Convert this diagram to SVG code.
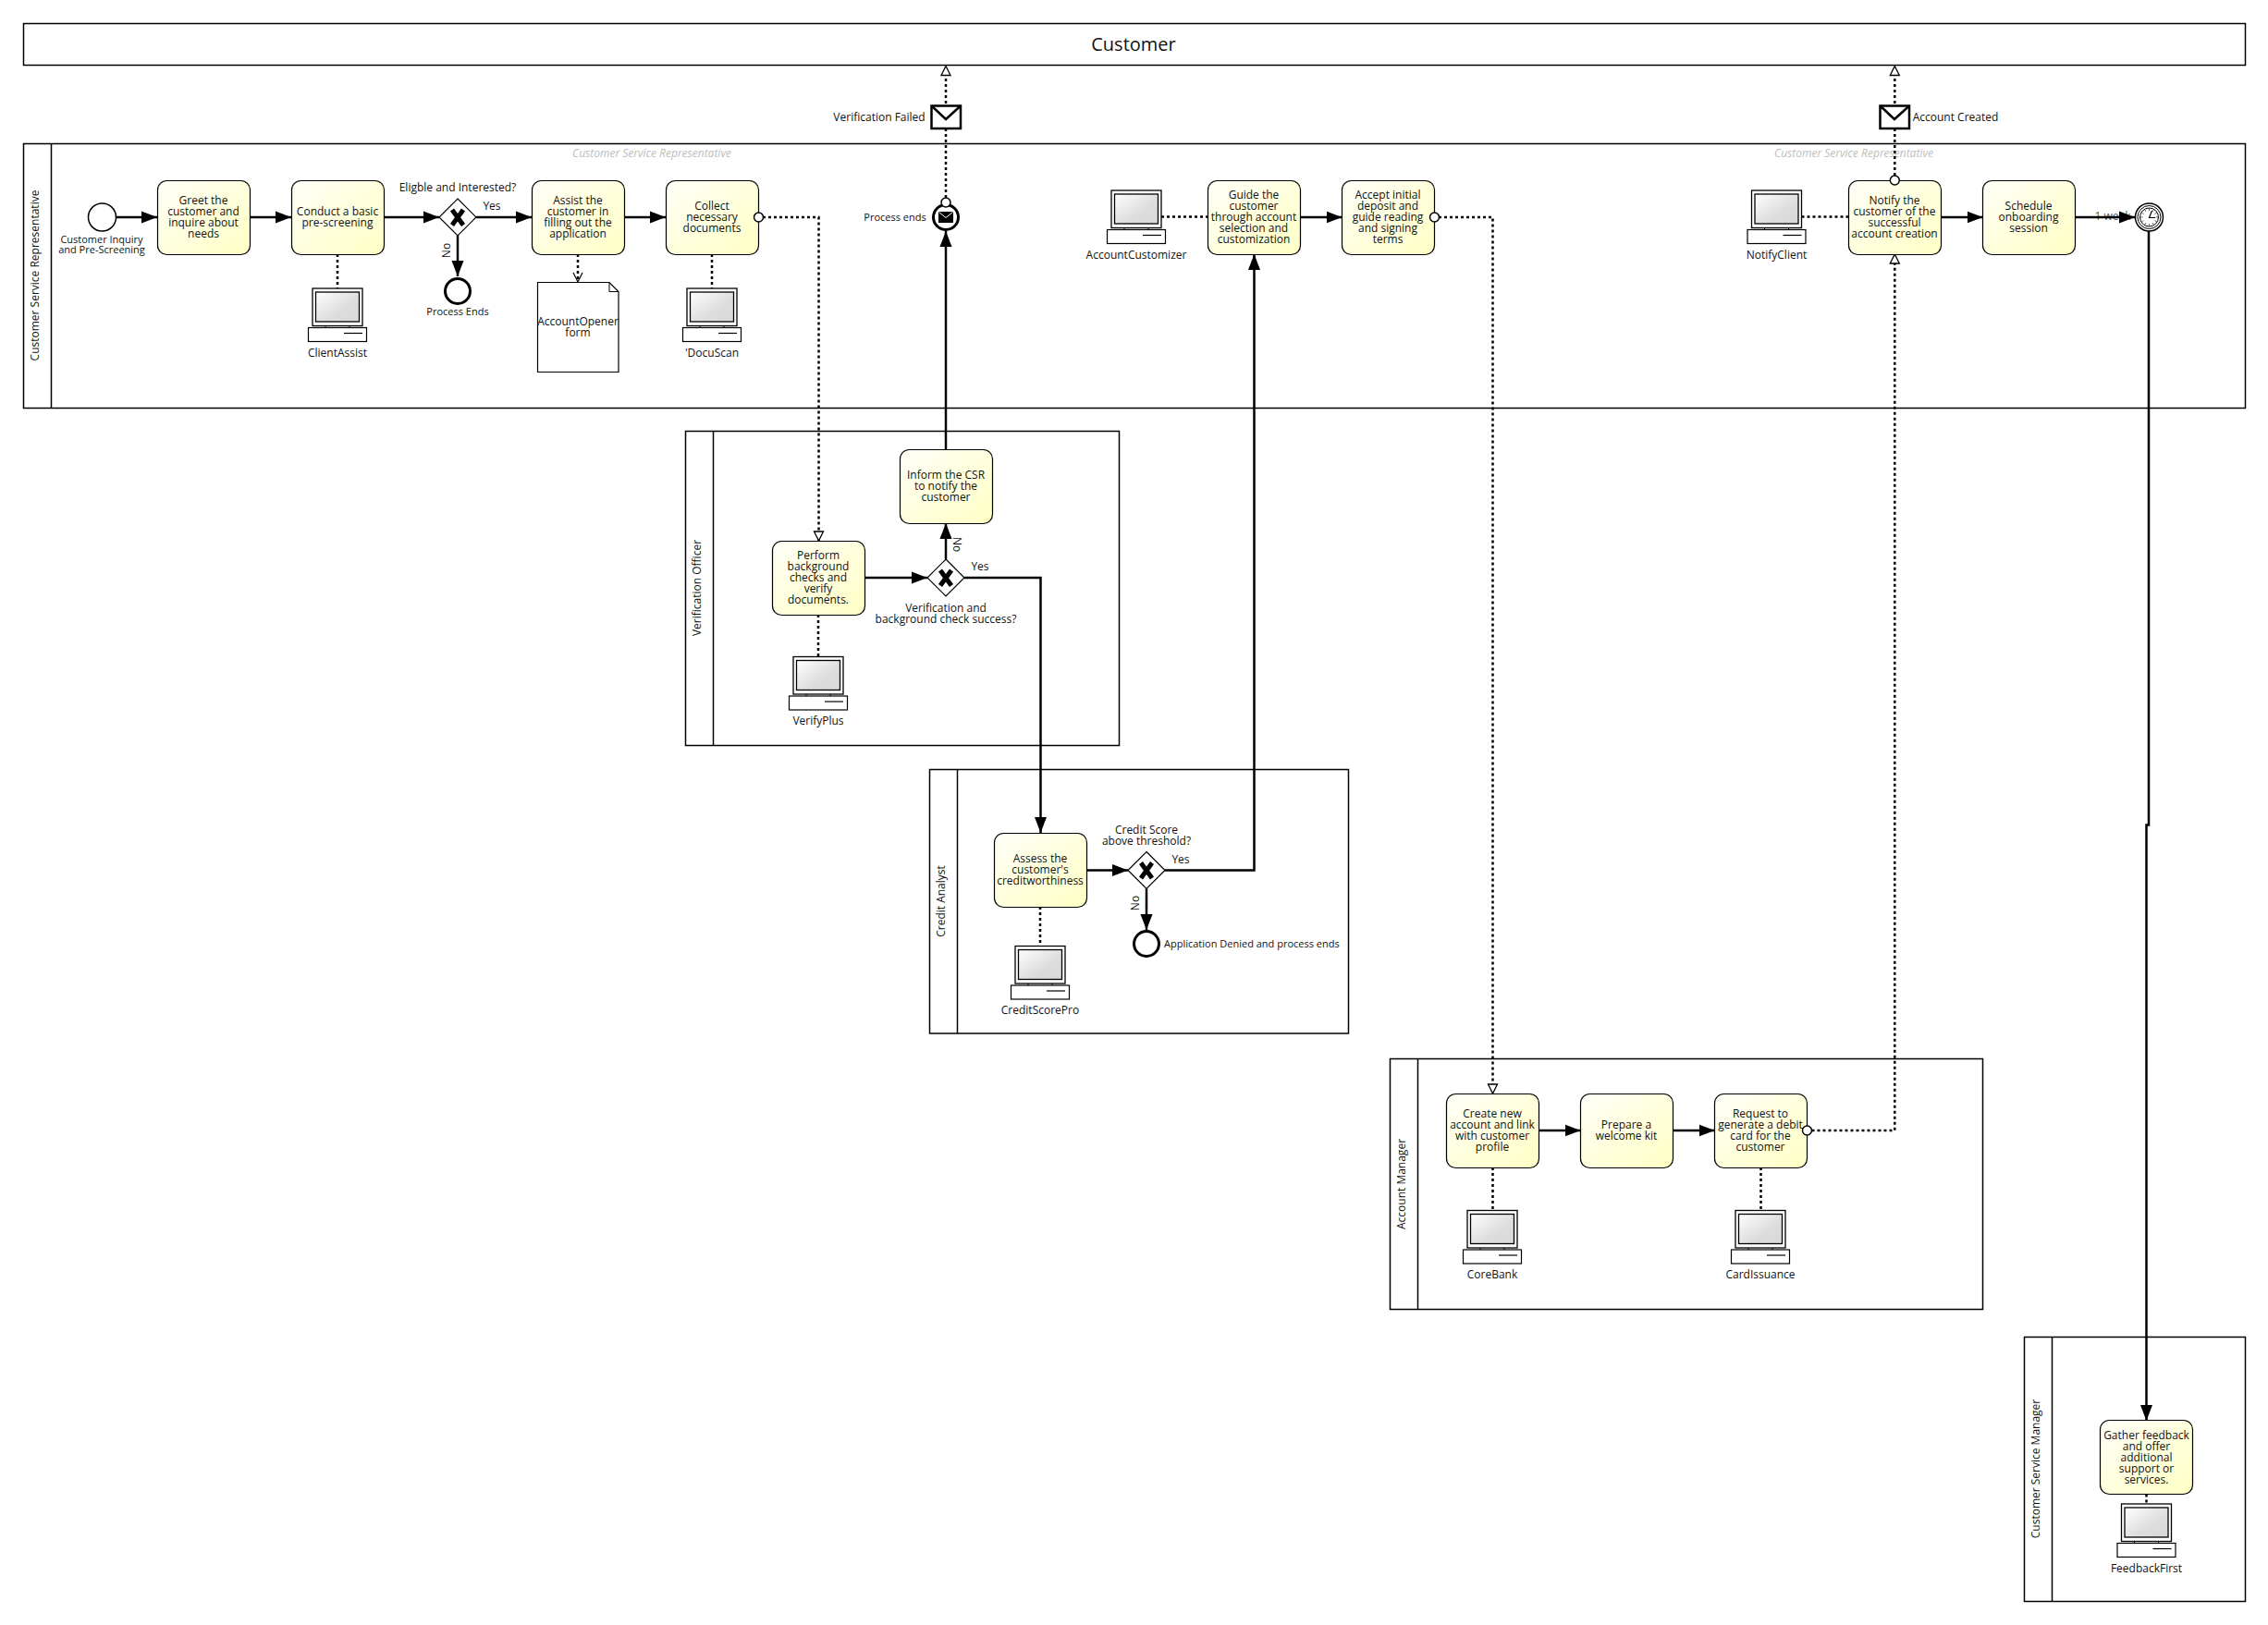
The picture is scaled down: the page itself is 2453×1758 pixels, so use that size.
<svg xmlns="http://www.w3.org/2000/svg" xmlns:xlink="http://www.w3.org/1999/xlink" width="2453" height="1758" viewBox="0 0 2453 1758">
<style>
text{font-family:"Open Sans","Noto Sans","Liberation Sans",sans-serif;font-size:12px;fill:#111;text-anchor:middle}
.sm{font-size:11px}
.ghost{font-style:italic;fill:#bdbdbd}
.title{font-size:20px}
.pool{fill:#fff;stroke:#000;stroke-width:1.5}
.hdr{fill:none;stroke:#000;stroke-width:1.5}
.task{fill:url(#taskGrad);stroke:#000;stroke-width:1.2}
.flow{fill:none;stroke:#000;stroke-width:2.5;marker-end:url(#arrow)}
.dot{fill:none;stroke:#000;stroke-width:2.5;stroke-dasharray:3 3}
.msg{marker-end:url(#hollow)}
.gw{fill:#fff;stroke:#000;stroke-width:1.2}
.gx{fill:none;stroke:#000;stroke-width:5}
.end{fill:#fff;stroke:#000;stroke-width:3}
.ring{fill:#fff;stroke:#000;stroke-width:1.5}
.fine{fill:#fff;stroke:#000;stroke-width:1}
.env{fill:#fff;stroke:#000;stroke-width:2.5}
</style>
<defs>
<linearGradient id="taskGrad" x1="0" y1="0" x2="1" y2="1"><stop offset="0" stop-color="#fffff8"/><stop offset="1" stop-color="#ffffc4"/></linearGradient>
<linearGradient id="scrGrad" x1="0" y1="0" x2="1" y2="1"><stop offset="0" stop-color="#ffffff"/><stop offset="0.6" stop-color="#dddddd"/><stop offset="1" stop-color="#d8d8d8"/></linearGradient>
<marker id="arrow" markerUnits="userSpaceOnUse" markerWidth="18" markerHeight="14" refX="17" refY="7" orient="auto"><path d="M0 0.500 L17 7 L0 13.500 Z" fill="#000"/></marker>
<marker id="hollow" markerUnits="userSpaceOnUse" markerWidth="14" markerHeight="14" refX="11" refY="7" orient="auto"><path d="M1 2 L11 7 L1 12 Z" fill="#fff" stroke="#000" stroke-width="1.3"/></marker>
<marker id="openArrow" markerUnits="userSpaceOnUse" markerWidth="14" markerHeight="14" refX="11" refY="7" orient="auto"><path d="M1 2 L11 7 L1 12" fill="none" stroke="#000" stroke-width="1.2"/></marker>
<g id="computer">
<rect x="-27" y="0" width="54" height="40.5" fill="#fff" stroke="#000" stroke-width="1.3"/>
<rect x="-23.5" y="4" width="47" height="32" fill="url(#scrGrad)" stroke="#000" stroke-width="1.3"/>
<path d="M-13 40.5V42.5M13 40.5V42.5" stroke="#000" fill="none"/>
<rect x="-31.5" y="42.5" width="63" height="15" fill="#fff" stroke="#000" stroke-width="1.2"/>
<path d="M7 48.5H27" stroke="#000" stroke-width="1.2" fill="none"/>
</g>
</defs>

<g id="pool-customer"><rect class="pool" x="25.5" y="25.5" width="2403" height="45"/><text class="title" x="1226" y="55">Customer</text></g>
<g id="pool-csr"><rect class="pool" x="25.5" y="155.5" width="2403" height="286"/><path class="hdr" d="M55.5 155.5V441.5"/><text transform="translate(42,298) rotate(-90)">Customer Service Representative</text><text class="ghost" x="705" y="170">Customer Service Representative</text><text class="ghost" x="2005" y="170">Customer Service Representative</text></g>
<g id="pool-vo"><rect class="pool" x="741.5" y="466.5" width="469" height="340"/><path class="hdr" d="M771.5 466.5V806.5"/><text transform="translate(758,636) rotate(-90)">Verification Officer</text></g>
<g id="pool-ca"><rect class="pool" x="1005.5" y="832.5" width="453" height="285.5"/><path class="hdr" d="M1035.5 832.5V1118"/><text transform="translate(1022,975) rotate(-90)">Credit Analyst</text></g>
<g id="pool-am"><rect class="pool" x="1503.5" y="1145.5" width="641" height="271"/><path class="hdr" d="M1533.5 1145.5V1416.5"/><text transform="translate(1520,1281) rotate(-90)">Account Manager</text></g>
<g id="pool-csm"><rect class="pool" x="2189.5" y="1446.5" width="239" height="286"/><path class="hdr" d="M2219.5 1446.5V1732.5"/><text transform="translate(2206,1589) rotate(-90)">Customer Service Manager</text></g>

<g id="connectors">
<text x="2285" y="238" style="fill:#555">1 week</text>
<path class="flow" d="M125 235H170"/>
<path class="flow" d="M270 235H315"/>
<path class="flow" d="M415 235H475"/>
<path class="flow" d="M515 235H575"/>
<path class="flow" d="M495 255V299"/>
<path class="flow" d="M675 235H720"/>
<path class="flow" d="M1023 486V250"/>
<path class="flow" d="M935.5 625H1003"/>
<path class="flow" d="M1023 605V566"/>
<path class="flow" d="M1043 625H1125.5V901"/>
<path class="flow" d="M1175.5 941.5H1220"/>
<path class="flow" d="M1260 941.5H1356.5V275"/>
<path class="flow" d="M1240 961.5V1006"/>
<path class="flow" d="M1406 235H1451.5"/>
<path class="flow" d="M1664.5 1223H1709.5"/>
<path class="flow" d="M1809.5 1223H1854.5"/>
<path class="flow" d="M2099 235H2144.5"/>
<path class="flow" d="M2244.5 235H2309"/>
<path class="flow" d="M2324 250V892.5H2321.5V1537"/>
<path class="dot msg" d="M825 235H885.5V585"/>
<path class="dot msg" d="M1556 235H1614.5V1183"/>
<path class="dot msg" d="M1959.5 1223H2049.3V275"/>
<path class="dot msg" d="M1023 214V71.5"/>
<path class="dot msg" d="M2049.3 190V71.5"/>
<path class="dot" d="M365 275V312"/>
<path class="dot" style="marker-end:url(#openArrow)" d="M625 275V305"/>
<path class="dot" d="M770 275V312"/>
<path class="dot" d="M1256 234.5H1306"/>
<path class="dot" d="M1948.5 234.5H1999"/>
<path class="dot" d="M885 665V710"/>
<path class="dot" d="M1125 981V1023"/>
<path class="dot" d="M1614.5 1263V1309"/>
<path class="dot" d="M1904.5 1263V1309"/>
<path class="dot" d="M2321.5 1616.5V1627"/>
</g>

<g id="start"><circle class="ring" cx="110.5" cy="235" r="15"/><text class="sm" x="110" y="263">Customer Inquiry</text><text class="sm" x="110" y="274">and Pre-Screening</text></g>
<g id="t-greet"><rect class="task" x="170.5" y="195.5" width="100" height="80" rx="10"/><text x="220" y="221">Greet the</text><text x="220" y="233">customer and</text><text x="220" y="245">inquire about</text><text x="220" y="257">needs</text></g>
<g id="t-conduct"><rect class="task" x="315.5" y="195.5" width="100" height="80" rx="10"/><text x="365" y="233">Conduct a basic</text><text x="365" y="245">pre-screening</text></g>
<g id="c-clientassist"><use xlink:href="#computer" x="365" y="312"/><text x="365" y="386">ClientAssist</text></g>
<g id="gw-eligible"><path class="gw" d="M495 215L515 235L495 255L475 235Z"/><path class="gx" d="M489 227L501 243.500M501 227L489 243.500"/><text x="495" y="207">Eligble and Interested?</text><text x="532" y="227">Yes</text><text transform="translate(487,271) rotate(-90)">No</text></g>
<g id="e-processends"><circle class="end" cx="495" cy="315" r="13.500"/><text class="sm" x="495" y="341">Process Ends</text></g>
<g id="t-assist"><rect class="task" x="575.5" y="195.5" width="100" height="80" rx="10"/><text x="625" y="221">Assist the</text><text x="625" y="233">customer in</text><text x="625" y="245">filling out the</text><text x="625" y="257">application</text></g>
<g id="doc-accountopener"><path d="M581.500 305.500H659L669 315.500V402.500H581.500Z" fill="#fff" stroke="#000" stroke-width="1.200"/><path d="M659 305.500V315.500H669" fill="none" stroke="#000" stroke-width="1"/><text x="625" y="352">AccountOpener</text><text x="625" y="364">form</text></g>
<g id="t-collect"><rect class="task" x="720.500" y="195.500" width="100" height="80" rx="10"/><text x="770" y="227">Collect</text><text x="770" y="239">necessary</text><text x="770" y="251">documents</text><circle class="ring" cx="820.500" cy="235" r="5"/></g>
<g id="c-docuscan"><use xlink:href="#computer" x="770" y="312"/><text x="770" y="386">'DocuScan</text></g>
<g id="e-processends2"><circle class="end" cx="1023" cy="235" r="13.500"/><rect x="1015" y="229" width="16" height="12" fill="#000"/><path d="M1015.500 229.500L1023 235.500L1030.500 229.500" fill="none" stroke="#fff" stroke-width="1"/><circle class="ring" cx="1023" cy="219" r="5"/><text class="sm" x="968" y="239">Process ends</text></g>
<g id="m-failed"><rect class="env" x="1007.500" y="114.500" width="31.500" height="24.500"/><path class="env" style="fill:none" d="M1007.500 114.500L1023 129L1039 114.500"/><text x="951" y="131">Verification Failed</text></g>
<g id="c-accountcustomizer"><use xlink:href="#computer" x="1229" y="206"/><text x="1229" y="280">AccountCustomizer</text></g>
<g id="t-guide"><rect class="task" x="1306.500" y="195.500" width="100" height="80" rx="10"/><text x="1356" y="215">Guide the</text><text x="1356" y="227">customer</text><text x="1356" y="239">through account</text><text x="1356" y="251">selection and</text><text x="1356" y="263">customization</text></g>
<g id="t-accept"><rect class="task" x="1451.500" y="195.500" width="100" height="80" rx="10"/><text x="1501" y="215">Accept initial</text><text x="1501" y="227">deposit and</text><text x="1501" y="239">guide reading</text><text x="1501" y="251">and signing</text><text x="1501" y="263">terms</text><circle class="ring" cx="1551.500" cy="235" r="5"/></g>
<g id="c-notifyclient"><use xlink:href="#computer" x="1921.500" y="206"/><text x="1921.500" y="280">NotifyClient</text></g>
<g id="t-notify"><rect class="task" x="1999.500" y="195.500" width="100" height="80" rx="10"/><text x="2049" y="221">Notify the</text><text x="2049" y="233">customer of the</text><text x="2049" y="245">successful</text><text x="2049" y="257">account creation</text><circle class="ring" cx="2049.300" cy="195" r="5"/></g>
<g id="m-created"><rect class="env" x="2033.500" y="114.500" width="31.500" height="24.500"/><path class="env" style="fill:none" d="M2033.500 114.500L2049 129L2065 114.500"/><text x="2115" y="131">Account Created</text></g>
<g id="t-schedule"><rect class="task" x="2144.500" y="195.500" width="100" height="80" rx="10"/><text x="2194" y="227">Schedule</text><text x="2194" y="239">onboarding</text><text x="2194" y="251">session</text></g>
<g id="e-timer"><circle class="ring" cx="2324.500" cy="235" r="15"/><circle class="fine" cx="2324.500" cy="235" r="12.500"/><circle class="fine" cx="2324.500" cy="235" r="10"/><path d="M2324.500 225.500V228M2324.500 242V244.500M2315 235H2317.500M2331.500 235H2334M2319.700 226.700L2321 229M2329.300 226.700L2328 229M2319.700 243.300L2321 241M2329.300 243.300L2328 241M2316.300 230.200L2318.500 231.500M2332.700 230.200L2330.500 231.500M2316.300 239.800L2318.500 238.500M2332.700 239.800L2330.500 238.500" stroke="#000" stroke-width="0.600" fill="none"/><path d="M2327.500 228L2324.500 235.500H2331" stroke="#000" stroke-width="1.200" fill="none"/></g>

<g id="t-inform"><rect class="task" x="973.500" y="486.500" width="100" height="80" rx="10"/><text x="1023" y="518">Inform the CSR</text><text x="1023" y="530">to notify the</text><text x="1023" y="542">customer</text></g>
<g id="t-perform"><rect class="task" x="835.500" y="585.500" width="100" height="80" rx="10"/><text x="885" y="605">Perform</text><text x="885" y="617">background</text><text x="885" y="629">checks and</text><text x="885" y="641">verify</text><text x="885" y="653">documents.</text></g>
<g id="c-verifyplus"><use xlink:href="#computer" x="885" y="710.500"/><text x="885" y="784">VerifyPlus</text></g>
<g id="gw-verify"><path class="gw" d="M1023 605L1043 625L1023 645L1003 625Z"/><path class="gx" d="M1017 617L1029 633.500M1029 617L1017 633.500"/><text x="1023" y="662">Verification and</text><text x="1023" y="674">background check success?</text><text x="1060" y="617">Yes</text><text transform="translate(1031,589) rotate(90)">No</text></g>
<g id="t-assess"><rect class="task" x="1075.500" y="901.500" width="100" height="80" rx="10"/><text x="1125" y="933">Assess the</text><text x="1125" y="945">customer's</text><text x="1125" y="957">creditworthiness</text></g>
<g id="c-creditscorepro"><use xlink:href="#computer" x="1125" y="1023.500"/><text x="1125" y="1097">CreditScorePro</text></g>
<g id="gw-credit"><path class="gw" d="M1240 921.500L1260 941.500L1240 961.500L1220 941.500Z"/><path class="gx" d="M1234 933.500L1246 950M1246 933.500L1234 950"/><text x="1240" y="901.500">Credit Score</text><text x="1240" y="913.500">above threshold?</text><text x="1277" y="934">Yes</text><text transform="translate(1232,977) rotate(-90)">No</text></g>
<g id="e-denied"><circle class="end" cx="1240" cy="1021" r="13.500"/><text class="sm" style="text-anchor:start" x="1259" y="1025">Application Denied and process ends</text></g>

<g id="t-create"><rect class="task" x="1564.500" y="1183.500" width="100" height="80" rx="10"/><text x="1614" y="1209">Create new</text><text x="1614" y="1221">account and link</text><text x="1614" y="1233">with customer</text><text x="1614" y="1245">profile</text></g>
<g id="t-prepare"><rect class="task" x="1709.500" y="1183.500" width="100" height="80" rx="10"/><text x="1759" y="1221">Prepare a</text><text x="1759" y="1233">welcome kit</text></g>
<g id="t-request"><rect class="task" x="1854.500" y="1183.500" width="100" height="80" rx="10"/><text x="1904" y="1209">Request to</text><text x="1904" y="1221">generate a debit</text><text x="1904" y="1233">card for the</text><text x="1904" y="1245">customer</text><circle class="ring" cx="1954.500" cy="1223" r="5"/></g>
<g id="c-corebank"><use xlink:href="#computer" x="1614" y="1309.500"/><text x="1614" y="1383">CoreBank</text></g>
<g id="c-cardissuance"><use xlink:href="#computer" x="1904" y="1309.500"/><text x="1904" y="1383">CardIssuance</text></g>

<g id="t-gather"><rect class="task" x="2271.500" y="1536.500" width="100" height="80" rx="10"/><text x="2321.500" y="1557">Gather feedback</text><text x="2321.500" y="1569">and offer</text><text x="2321.500" y="1581">additional</text><text x="2321.500" y="1593">support or</text><text x="2321.500" y="1605">services.</text></g>
<g id="c-feedbackfirst"><use xlink:href="#computer" x="2321.500" y="1627"/><text x="2321.500" y="1701">FeedbackFirst</text></g>
</svg>
